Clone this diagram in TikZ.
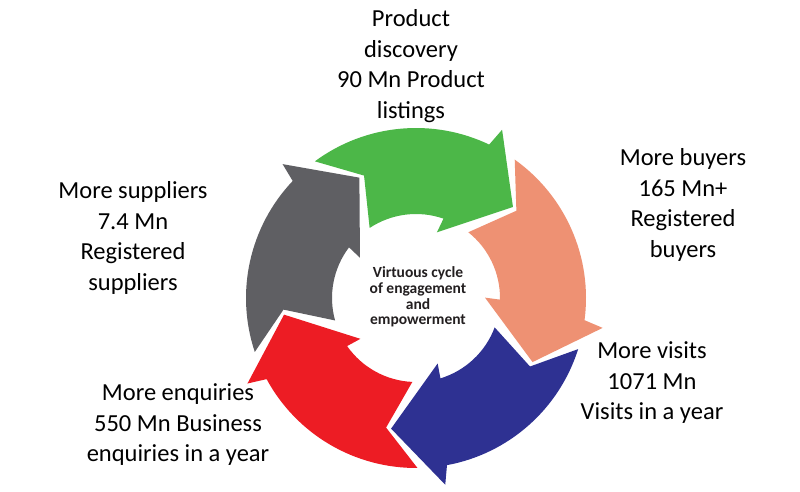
\documentclass[tikz,border=0pt]{standalone}
\usepackage{fontspec}
\setmainfont{Carlito}
\definecolor{cgreen}{RGB}{76,183,72}
\definecolor{csalmon}{RGB}{238,145,115}
\definecolor{cblue}{RGB}{46,49,146}
\definecolor{cred}{RGB}{237,28,36}
\definecolor{cgray}{RGB}{95,95,99}
\definecolor{ctext}{RGB}{35,31,32}
\newcommand\cycarrow[2]{%
  \fill[#2] ({#1}:170) arc[start angle={#1}, end angle={#1-62}, radius=170]
    -- ({#1-63.6}:189) -- ({#1-83.3}:133) -- ({#1-54.2}:69) -- ({#1-55.6}:84)
    arc[start angle={#1-55.6}, end angle={#1-3}, radius=84]
    -- ({#1-13.5}:133) -- cycle;}
\tikzset{
  lbl/.style={align=center, font=\fontsize{24.5}{30.5}\selectfont, text=black, inner sep=0pt},
  ctr/.style={align=center, font=\fontsize{15.5}{15.8}\selectfont\bfseries, text=ctext, inner sep=0pt}
}
\begin{document}
\begin{tikzpicture}[x=1pt,y=1pt]
\useasboundingbox[fill=white] (0,0) rectangle (800,491);
\begin{scope}[shift={(416,193)}]
  \cycarrow{126.5}{cgreen}
  \cycarrow{54.5}{csalmon}
  \cycarrow{-17.5}{cblue}
  \cycarrow{-89.5}{cred}
  \cycarrow{-161.5}{cgray}
\end{scope}
\node[ctr] (center) at (418,194) {Virtuous cycle\\of engagement\\and\\empowerment};
\node[lbl] (disc) at (411,425) {Product\\discovery\\90 Mn Product\\listings};
\node[lbl] (buy) at (683,286) {More buyers\\165 Mn+\\Registered\\buyers};
\node[lbl] (vis) at (652,108) {More visits\\1071 Mn\\Visits in a year};
\node[lbl] (enq) at (178,66) {More enquiries\\550 Mn Business\\enquiries in a year};
\node[lbl] (sup) at (133,253) {More suppliers\\7.4 Mn\\Registered\\suppliers};
\end{tikzpicture}
\end{document}
